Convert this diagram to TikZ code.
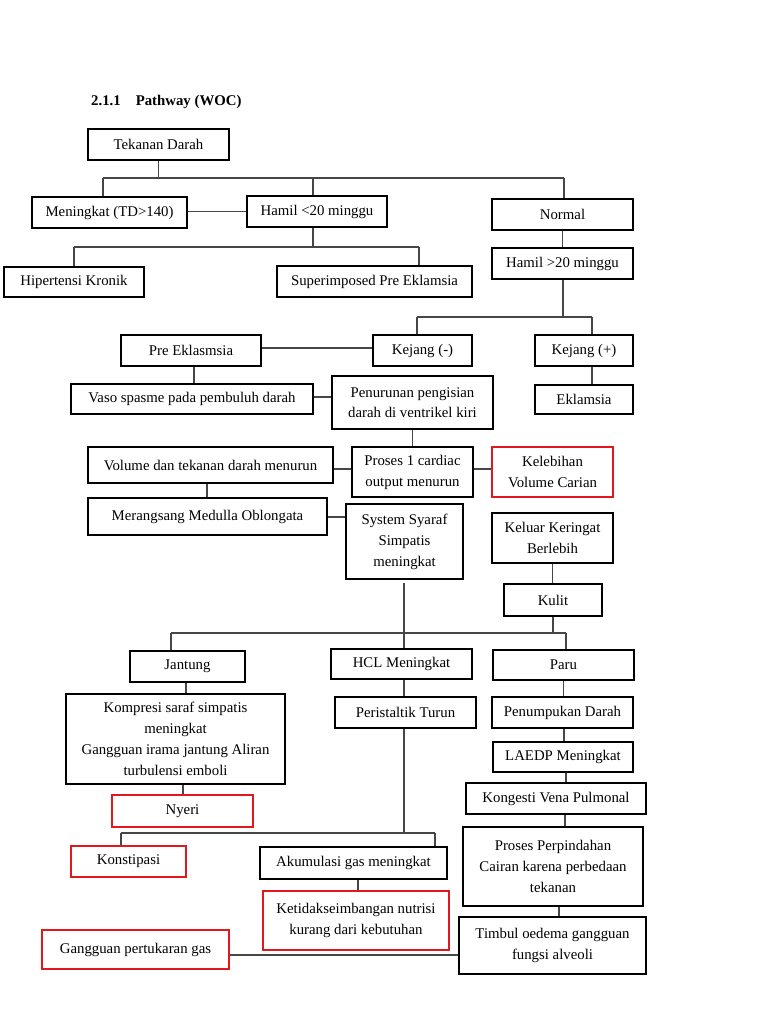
\documentclass[tikz,border=0pt]{standalone}
\usepackage{fontspec}
\setmainfont{Liberation Serif}
\definecolor{redb}{RGB}{226,24,28}
\definecolor{linec}{RGB}{70,70,70}
\newcommand\mybox[7]{%
  \node[#6, minimum width={(#4-#2)*1bp}, minimum height={(#5-#3)*1bp}] (#1) at ({(#2+#4)/2},{(#3+#5)/2}) {#7};}
\begin{document}
\begin{tikzpicture}[x=1bp,y=-1bp,
  base/.style={draw, inner sep=0pt, align=center, font=\fontsize{14.8bp}{21bp}\selectfont},
  thk/.style={base, line width=2.6bp},
  med/.style={base, line width=1.8bp},
  redbox/.style={base, draw=redb, line width=2.6bp},
  conn/.style={draw=linec, line width=1.1bp}]
\fill[white] (0,0) rectangle (768,1024);
\useasboundingbox (0,0) rectangle (768,1024);

\node[anchor=west, inner sep=0pt, font=\fontsize{14.8bp}{18bp}\selectfont\bfseries] (title) at (91,102) {2.1.1\hspace{15bp}Pathway (WOC)};

\mybox{tek}{88}{129}{229}{160}{thk}{Tekanan Darah}
\mybox{men}{32}{197}{187}{228}{thk}{Meningkat (TD>140)}
\mybox{h20}{247}{196}{387}{227}{thk}{Hamil <20 minggu}
\mybox{hip}{4}{267}{144}{297}{thk}{Hipertensi Kronik}
\mybox{sup}{277}{266}{472}{297}{thk}{Superimposed Pre Eklamsia}
\mybox{norm}{492}{199}{633}{230}{thk}{Normal}
\mybox{hg20}{492}{248}{633}{279}{thk}{Hamil >20 minggu}
\mybox{pre}{121}{335}{261}{366}{thk}{Pre Eklasmsia}
\mybox{kmin}{373}{335}{472}{366}{thk}{Kejang (-)}
\mybox{kplus}{535}{335}{633}{366}{thk}{Kejang (+)}
\mybox{ekl}{535}{385}{633}{414}{thk}{Eklamsia}
\mybox{vaso}{71}{384}{313}{414}{med}{Vaso spasme pada pembuluh darah}
\mybox{pen}{332}{376}{493}{429}{thk}{Penurunan pengisian\\[-1bp]darah di ventrikel kiri}
\mybox{vol}{88}{447}{333}{483}{thk}{Volume dan tekanan darah menurun}
\mybox{pro}{352}{447}{473}{497}{med}{Proses 1 cardiac\\output menurun}
\mybox{kel}{492}{447}{613}{497}{redbox}{Kelebihan\\Volume Carian}
\mybox{mer}{88}{498}{327}{535}{med}{Merangsang Medulla Oblongata}
\mybox{sys}{346}{504}{463}{579}{thk}{System Syaraf\\Simpatis\\meningkat}
\mybox{kk}{492}{513}{613}{563}{thk}{Keluar Keringat\\Berlebih}
\mybox{kul}{504}{584}{602}{616}{thk}{Kulit}
\mybox{jan}{130}{651}{245}{682}{med}{Jantung}
\mybox{hcl}{331}{649}{472}{679}{thk}{HCL Meningkat}
\mybox{paru}{493}{650}{634}{680}{thk}{Paru}
\mybox{kom}{66}{694}{285}{784}{thk}{Kompresi saraf simpatis\\meningkat\\Gangguan irama jantung Aliran\\turbulensi emboli}
\mybox{per}{335}{697}{476}{728}{med}{Peristaltik Turun}
\mybox{pentwo}{492}{697}{633}{728}{thk}{Penumpukan Darah}
\mybox{lae}{493}{742}{633}{772}{med}{LAEDP Meningkat}
\mybox{nye}{112}{795}{253}{827}{redbox}{Nyeri}
\mybox{kong}{466}{783}{646}{814}{med}{Kongesti Vena Pulmonal}
\mybox{ppd}{463}{827}{643}{906}{thk}{Proses Perpindahan\\Cairan karena perbedaan\\tekanan}
\mybox{kon}{71}{846}{186}{877}{redbox}{Konstipasi}
\mybox{aku}{260}{847}{447}{879}{thk}{Akumulasi gas meningkat}
\mybox{ket}{263}{891}{449}{950}{redbox}{Ketidakseimbangan nutrisi\\kurang dari kebutuhan}
\mybox{tim}{459}{917}{646}{974}{thk}{Timbul oedema gangguan\\fungsi alveoli}
\mybox{gg}{42}{930}{229}{969}{redbox}{Gangguan pertukaran gas}

% junction coordinates
\coordinate (a1) at (103,178);
\coordinate (a2) at (313,178);
\coordinate (a3) at (564,178);
\coordinate (b1) at (74,247);
\coordinate (b2) at (313,247);
\coordinate (b3) at (419,247);
\coordinate (c1) at (417,317);
\coordinate (c2) at (563,317);
\coordinate (c3) at (592,317);
\coordinate (d1) at (404,583);
\coordinate (e1) at (171,633);
\coordinate (e2) at (553,633);
\coordinate (e3) at (566,633);
\coordinate (f1) at (121,833);
\coordinate (f2) at (404,833);
\coordinate (f3) at (435,833);
\coordinate (xa) at (186,0);
\coordinate (xb) at (183,0);
\coordinate (xc) at (194,0);
\coordinate (xd) at (207,0);
\coordinate (xe) at (564,0);
\coordinate (xf) at (566,0);
\coordinate (xg) at (565,0);
\coordinate (xh) at (559,0);
\coordinate (xi) at (358,0);
\coordinate (ya) at (0,955);
\coordinate (yb) at (0,469);
\coordinate (yc) at (0,397);
\coordinate (yd) at (0,348);
\coordinate (ye) at (0,517);

\draw[conn] (tek.south) -- (tek.south |- a1);
\draw[conn] (a1) -- (a3);
\draw[conn] (a1) -- (a1 |- men.north);
\draw[conn] (a2) -- (a2 |- h20.north);
\draw[conn] (a3) -- (a3 |- norm.north);
\draw[conn] (men.east |- h20.west) -- (h20.west);
\draw[conn] (b2 |- h20.south) -- (b2);
\draw[conn] (b1) -- (b3);
\draw[conn] (b1) -- (b1 |- hip.north);
\draw[conn] (b3) -- (b3 |- sup.north);
\draw[conn] (norm.south) -- (hg20.north);
\draw[conn] (c2 |- hg20.south) -- (c2);
\draw[conn] (c1) -- (c3);
\draw[conn] (c1) -- (c1 |- kmin.north);
\draw[conn] (c3) -- (c3 |- kplus.north);
\draw[conn] (c3 |- kplus.south) -- (c3 |- ekl.north);
\draw[conn] (pre.east |- yd) -- (kmin.west |- yd);
\draw[conn] (xc |- pre.south) -- (xc |- vaso.north);
\draw[conn] (vaso.east |- yc) -- (pen.west |- yc);
\draw[conn] (pen.south) -- (pro.north);
\draw[conn] (vol.east |- yb) -- (pro.west |- yb);
\draw[conn] (pro.east |- yb) -- (kel.west |- yb);
\draw[conn] (xd |- vol.south) -- (xd |- mer.north);
\draw[conn] (mer.east |- ye) -- (sys.west |- ye);
\draw[conn] (kk.south) -- (kk.south |- kul.north);
\draw[conn] (d1) -- (d1 |- hcl.north);
\draw[conn] (e1) -- (e3);
\draw[conn] (e1) -- (e1 |- jan.north);
\draw[conn] (e3) -- (e3 |- paru.north);
\draw[conn] (e2 |- kul.south) -- (e2);
\draw[conn] (xa |- jan.south) -- (xa |- kom.north);
\draw[conn] (xb |- kom.south) -- (xb |- nye.north);
\draw[conn] (d1 |- hcl.south) -- (d1 |- per.north);
\draw[conn] (f2 |- per.south) -- (f2);
\draw[conn] (f1) -- (f3);
\draw[conn] (f1) -- (f1 |- kon.north);
\draw[conn] (f3) -- (f3 |- aku.north);
\draw[conn] (xi |- aku.south) -- (xi |- ket.north);
\draw[conn] (paru.south) -- (paru.south |- pentwo.north);
\draw[conn] (xe |- pentwo.south) -- (xe |- lae.north);
\draw[conn] (xf |- lae.south) -- (xf |- kong.north);
\draw[conn] (xg |- kong.south) -- (xg |- ppd.north);
\draw[conn] (xh |- ppd.south) -- (xh |- tim.north);
\draw[conn] (gg.east |- ya) -- (tim.west |- ya);
\end{tikzpicture}
\end{document}
